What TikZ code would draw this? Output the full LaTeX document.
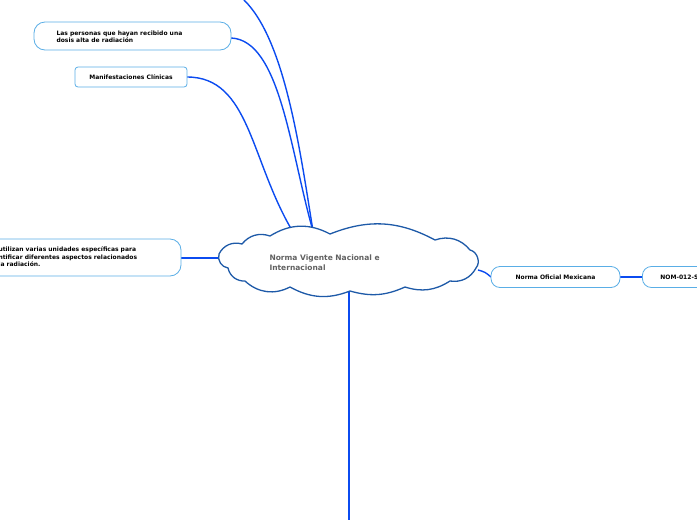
\documentclass[tikz,border=0pt]{standalone}
\usepackage{fontspec}
\setmainfont{DejaVu Sans}
\definecolor{lk}{HTML}{0B4BF0}
\definecolor{bd}{HTML}{5AAEE6}
\definecolor{cl}{HTML}{1E5AA8}
\tikzset{
 box/.style={draw=bd,line width=0.8pt,rounded corners=6pt,fill=white,font=\bfseries\fontsize{6}{7}\selectfont,align=left,inner sep=0pt},
 lnk/.style={draw=lk,line width=1.4pt},
 bt/.style={font=\bfseries\fontsize{6}{7.5}\selectfont,align=left,anchor=west}
}
\begin{document}
\begin{tikzpicture}[x=1pt,y=-1pt]
\useasboundingbox (0,0) rectangle (697,520);
\coordinate (ctop) at (313,231);
\coordinate (ctop2) at (293,232);
\coordinate (cl) at (218,258);
\coordinate (cr) at (478,270);
\coordinate (cb) at (349,290);
\coordinate (top) at (244,0);
\coordinate (bot) at (349,520);
\coordinate (b1east) at (231,38);
\coordinate (b2east) at (187,77);
\coordinate (b3east) at (181,258);
\coordinate (b4west) at (491,277);
\coordinate (b4east) at (620,277);
\coordinate (b5west) at (642,277);
\draw[lnk] (ctop) .. controls (300,150) and (285,40) .. (top);
\draw[lnk] (ctop) .. controls (290,150) and (280,40) .. (b1east);
\draw[lnk] (ctop2) .. controls (250,160) and (250,77) .. (b2east);
\draw[lnk] (cl) -- (b3east);
\draw[lnk] (cr) .. controls (485,272) .. (b4west);
\draw[lnk] (b4east) -- (b5west);
\draw[lnk] (cb) -- (bot);
\draw[cl,line width=1.3pt,fill=white] (242,244) to[bend left=35] (270,236) to[bend left=30] (330,234)
 to[bend left=25] (435,240) to[bend left=35] (470,250) to[bend left=60] (476,268)
 to[bend left=35] (450,281) to[bend left=25] (405,287) to[bend left=20] (350,291)
 to[bend left=25] (290,287) to[bend left=35] (245,281) to[bend left=40] (228,268)
 to[bend left=50] (219,254) to[bend left=40] cycle;
\node[font=\bfseries\fontsize{7.5}{10}\selectfont,text=black!62,align=left,anchor=west] (ct) at (266,263) {Norma Vigente Nacional e\\Internacional};
\node[box,minimum width=197,minimum height=28,rounded corners=11pt] (b1) at (132.5,36) {};
\node[bt] (t1) at (53,37) {Las personas que hayan recibido una\\dosis alta de radiación};
\node[box,minimum width=112,minimum height=20,rounded corners=3pt,align=center] (b2) at (131,77) {Manifestaciones Clínicas};
\node[box,minimum width=200,minimum height=37,rounded corners=11pt] (b3) at (81,257.5) {};
\node[bt] (t3) at (-5,257) {utilizan varias unidades específicas para\\ntificar diferentes aspectos relacionados\\ la radiación.};
\node[box,minimum width=129,minimum height=21,rounded corners=9pt,align=center] (b4) at (555.5,277) {Norma Oficial Mexicana};
\node[box,minimum width=90,minimum height=21,rounded corners=9pt,anchor=west] (b5) at (642,277) {\hspace*{16pt}NOM-012-STPS-2012\hfill};
\end{tikzpicture}
\end{document}
